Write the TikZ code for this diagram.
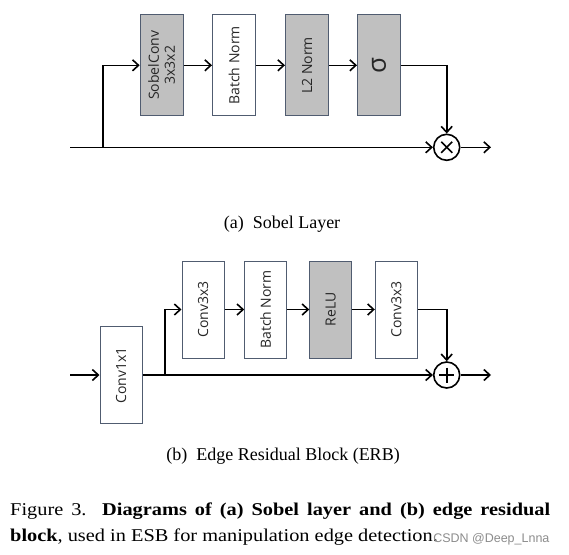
\documentclass[tikz,border=0pt]{standalone}
\usepackage{fontspec}
\setmainfont{Liberation Serif}
\setsansfont{Open Sans}
\newfontfamily\markfont{Liberation Sans}
\newfontfamily\widefont[FakeStretch=1.13]{Liberation Serif}
\usepackage{tikz}
\usetikzlibrary{arrows.meta}
\usetikzlibrary{calc}
\definecolor{boxline}{RGB}{80,92,112}
\definecolor{boxgrey}{RGB}{192,192,192}

\tikzset{
  layer/.style={draw=boxline, line width=1pt, minimum width=43pt, minimum height=101pt, inner sep=0pt},
  grey/.style={fill=boxgrey},
  tag/.style={rotate=90, align=center, inner sep=0pt, font=\sffamily\fontsize{14}{16}\selectfont, text=black!85},
  flow/.style={line width=1.6pt, -{Straight Barb[length=6pt,width=11pt]}},
  wire/.style={line width=1.6pt},
  op/.style={draw, circle, line width=1.6pt, minimum size=26pt, fill=white, inner sep=0pt},
  subcap/.style={font=\fontsize{18}{21}\selectfont},
}

\begin{document}
\begin{tikzpicture}[x=1pt,y=-1pt]
\useasboundingbox (0,0) rectangle (569,554);
% (a) sobel layer
\node[layer,grey,label={[tag]center:{SobelConv\\3x3x2}}] (sobel) at (161.7,65.3) {};
\node[layer,label={[tag]center:Batch Norm}] (bn) at (234,65.3) {};
\node[layer,grey,label={[tag]center:L2 Norm}] (ltwo) at (307,65.3) {};
\node[layer,grey,label={[tag,font=\sffamily\fontsize{26}{26}\selectfont]center:σ}] (sig) at (379,65.3) {};
\node[op] (mul) at (446.7,147.3) {};
\draw[wire] ([shift={(-5.5,-5.5)}]mul.center) -- ([shift={(5.5,5.5)}]mul.center);
\draw[wire] ([shift={(-5.5,5.5)}]mul.center) -- ([shift={(5.5,-5.5)}]mul.center);
\coordinate (ina) at (70,147.3);
\coordinate (splita) at (102.7,147.3);
\coordinate (outa) at (491,147.3);
\draw[flow] (ina) -- (mul.west);
\draw[flow] (splita) |- (sobel.west);
\draw[flow] (sobel.east) -- (bn.west);
\draw[flow] (bn.east) -- (ltwo.west);
\draw[flow] (ltwo.east) -- (sig.west);
\draw[flow] (sig.east) -| (mul.north);
\draw[flow] (mul.east) -- (outa);
\node[subcap] (capa) at (282,224) {(a)\ \ Sobel Layer};

% (b) edge residual block
\node[layer,minimum width=42pt,minimum height=97pt,label={[tag]center:Conv1x1}] (cone) at (121,375.3) {};
\node[layer,minimum width=42pt,minimum height=97pt,label={[tag]center:Conv3x3}] (cthree) at (203,309.5) {};
\node[layer,minimum width=42pt,minimum height=97pt,label={[tag]center:Batch Norm}] (bntwo) at (265.7,309.5) {};
\node[layer,grey,minimum width=42pt,minimum height=97pt,label={[tag]center:ReLU}] (relu) at (330.8,309.5) {};
\node[layer,minimum width=42pt,minimum height=97pt,label={[tag]center:Conv3x3}] (cfour) at (396.3,309.5) {};
\node[op] (add) at (446.7,375) {};
\draw[wire] ([shift={(-7.5,0)}]add.center) -- ([shift={(7.5,0)}]add.center);
\draw[wire] ([shift={(0,-7.5)}]add.center) -- ([shift={(0,7.5)}]add.center);
\coordinate (inb) at (70,375);
\coordinate (splitb) at (165,375);
\coordinate (outb) at (491,375);
\draw[flow] (inb) -- (inb -| cone.west);
\draw[flow] (cone.east |- add) -- (add.west);
\draw[flow] (splitb) |- (cthree.west);
\draw[flow] (cthree.east) -- (bntwo.west);
\draw[flow] (bntwo.east) -- (relu.west);
\draw[flow] (relu.east) -- (cfour.west);
\draw[flow] (cfour.east) -| (add.north);
\draw[flow] (add.east) -- (outb);
\node[subcap] (capb) at (283,456) {(b)\ \ Edge Residual Block (ERB)};

% figure caption
\node[text width=540pt, align=justify, anchor=north west, inner sep=0pt, font=\widefont\fontsize{18}{25.5}\selectfont] (fig) at (10,503) {Figure 3. \textbf{Diagrams of (a) Sobel layer and (b) edge residual\linebreak block}, used in ESB for manipulation edge detection.};
\node[anchor=base east, font=\markfont\fontsize{12.5}{14}\selectfont, text=black!45] (mark) at (553,542) {CSDN @Deep\_Lnna};
\end{tikzpicture}
\end{document}
